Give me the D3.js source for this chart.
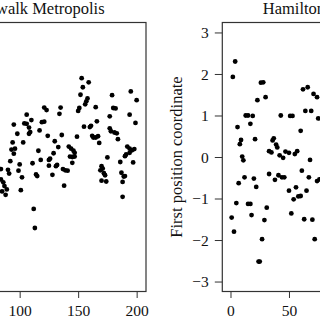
<!DOCTYPE html>
<html>
<head>
<meta charset="utf-8">
<script src="https://cdn.jsdelivr.net/npm/d3@7"></script>
<style>
  html, body { margin: 0; padding: 0; background: #fff; }
  svg { display: block; }
  text { font-family: "Liberation Serif", "DejaVu Serif", serif; fill: #111; }
</style>
</head>
<body>
<svg id="chart"></svg>
<script>
// panel titles
const titles = ["Random walk Metropolis", "Hamiltonian Monte Carlo"];
const yLabel = "First position coordinate";

// tick values
const xTicks = [0, 50, 100, 150, 200];
const yTicks = [-3, -2, -1, 0, 1, 2, 3];

// Random walk Metropolis samples: [iteration, first coordinate] (visible part)
const rwmSamples = [
  [153, 1.90], [159, 1.80], [154, 1.68], [152, 1.50], [158, 1.41], [157, 1.34],
  [156, 1.27], [151, 1.18], [150, 1.11], [165, 1.20], [179, 1.49], [180, 1.18],
  [182, 1.17], [177, 0.98], [195, 1.58], [200, 1.37], [194, 1.02], [199, 0.82],
  [121, 1.19], [123, 1.13], [135, 1.19], [134, 1.04], [106, 1.02], [110, 0.89],
  [104, 0.81], [106, 0.80], [95, 0.78], [108, 0.71], [119, 0.84], [121, 0.85],
  [98, 0.56], [108, 0.56], [109, 0.60], [117, 0.64], [124, 0.51], [136, 0.53],
  [94, 0.35], [103, 0.35], [130, 0.38], [133, 0.24], [96, 0.20], [93, 0.18],
  [95, 0.08], [116, 0.15], [129, 0.09], [142, 0.25], [144, 0.20], [146, 0.15],
  [147, 0.10], [143, 0.01], [145, 0.00], [147, 0.01], [145, -0.14], [155, 0.73],
  [160, 0.72], [161, 0.75], [166, 0.86], [149, 0.49], [162, 0.51], [163, 0.47],
  [165, 0.47], [167, 0.50], [168, 0.34], [177, 0.69], [178, 0.62], [181, 0.59],
  [183, 0.57], [184, 0.43], [192, 0.25], [194, 0.20], [196, 0.16], [198, 0.19],
  [194, 0.10], [191, 0.06], [190, 0.02], [197, -0.13], [186, -0.12], [175, -0.01],
  [126, -0.04], [125, -0.07], [118, -0.07], [111, -0.15], [92, -0.10], [100, -0.18],
  [125, -0.21], [131, -0.22], [132, -0.19], [137, -0.29], [139, -0.32], [141, -0.33],
  [128, -0.43], [114, -0.42], [115, -0.46], [102, -0.49], [99, -0.33], [90, -0.31],
  [91, -0.40], [138, -0.69], [101, -0.80], [112, -1.25], [113, -1.71], [84, -0.54],
  [86, -0.61], [87, -0.70], [89, -0.78], [85, -0.83], [88, -0.91], [170, -0.22],
  [171, -0.28], [169, -0.32], [172, -0.39], [173, -0.44], [170, -0.57], [174, -0.59],
  [187, -0.38], [189, -0.47], [190, -0.46], [188, -0.60], [188, -0.96], [84, -0.29]
];

// Hamiltonian Monte Carlo samples: [iteration, first coordinate] (visible part)
const hmcSamples = [
  [2, 1.93], [4, 2.30], [6, 0.72], [9, 0.41], [8, 0.31], [10, 0.01], [11, -0.08],
  [13, 1.00], [15, 1.00], [17, 0.80], [19, 0.99], [21, 0.43], [23, 1.37], [26, 1.79],
  [28, 1.80], [30, 1.44], [33, 0.14], [35, 0.11], [36, 0.40], [37, 0.45], [39, 0.30],
  [40, 0.23], [43, 1.00], [42, 0.04], [45, -0.02], [47, 0.13], [50, 0.10], [51, 0.99],
  [53, 0.99], [55, 0.07], [57, 0.14], [60, 0.63], [62, 1.63], [64, 1.11], [66, 1.68],
  [69, 1.11], [71, 1.52], [74, 1.44], [75, 0.93], [68, -0.07], [1, -1.46], [3, -1.80],
  [5, -1.11], [7, -0.63], [12, -0.49], [15, -1.13], [17, -1.13], [18, -1.40],
  [20, -0.52], [22, -0.72], [24, -2.52], [25, -2.52], [27, -1.98], [29, -1.52],
  [31, -1.22], [33, -0.41], [38, -0.55], [41, -0.44], [44, -0.49], [46, -0.49],
  [50, -0.81], [52, -1.36], [54, -1.02], [56, -0.73], [58, -0.95], [60, -0.94],
  [61, -0.33], [63, -1.50], [65, -0.81], [67, -0.49], [70, -1.51], [72, -1.98],
  [74, -0.58], [76, -0.54]
];

const width = 320;
const height = 320;
const boxTop = 22.5;
const boxBottom = 291.5;
const boxW = 251.5;
const panels = [
  { left: -105.5, data: rwmSamples, title: titles[0], yAxis: false },
  { left: 222.3, data: hmcSamples, title: titles[1], yAxis: true }
];

const svg = d3.select("#chart")
  .attr("width", width)
  .attr("height", height);

const y = d3.scaleLinear()
  .domain([-3.24, 3.24])
  .range([boxBottom, boxTop]);

const fmt = d => (d < 0 ? "\u2212" + Math.abs(d) : String(d));

panels.forEach(p => {
  const x = d3.scaleLinear()
    .domain([-7, 208])
    .range([p.left, p.left + boxW]);

  const g = svg.append("g");

  // title
  g.append("text")
    .attr("x", p.left + boxW / 2)
    .attr("y", 13.5)
    .attr("text-anchor", "middle")
    .style("font-size", "16.5px")
    .text(p.title);

  // x axis
  const xAxis = g.append("g")
    .attr("transform", `translate(0,${boxBottom})`)
    .call(d3.axisBottom(x).tickValues(xTicks).tickFormat(fmt).tickSize(6.5).tickSizeOuter(0));
  xAxis.select(".domain").remove();
  xAxis.selectAll("line").attr("stroke", "#333");
  xAxis.selectAll("text")
    .attr("y", 24.5)
    .attr("dy", null)
    .style("font-size", "15.5px")
    .style("font-family", "Liberation Serif, serif")
    .attr("fill", "#111");

  // y axis
  const yAxis = g.append("g")
    .attr("transform", `translate(${p.left},0)`)
    .call(d3.axisLeft(y).tickValues(yTicks).tickFormat(fmt).tickSize(7.5).tickPadding(6).tickSizeOuter(0));
  yAxis.select(".domain").remove();
  yAxis.selectAll("line").attr("stroke", "#333");
  yAxis.selectAll("text")
    .attr("dy", "0.34em")
    .style("font-size", "15.5px")
    .style("font-family", "Liberation Serif, serif")
    .attr("fill", "#111");

  if (p.yAxis) {
    g.append("text")
      .attr("transform", `translate(${p.left - 40},${y(0)}) rotate(-90)`)
      .attr("text-anchor", "middle")
      .style("font-size", "16.5px")
      .text(yLabel);
  }

  // box
  g.append("rect")
    .attr("x", p.left)
    .attr("y", boxTop)
    .attr("width", boxW)
    .attr("height", boxBottom - boxTop)
    .attr("fill", "none")
    .attr("stroke", "#333")
    .attr("stroke-width", 1.2);

  // points
  g.append("g")
    .selectAll("circle")
    .data(p.data)
    .join("circle")
    .attr("cx", d => x(d[0]))
    .attr("cy", d => y(d[1]))
    .attr("r", 2.4)
    .attr("fill", "#000");
});
</script>
</body>
</html>
